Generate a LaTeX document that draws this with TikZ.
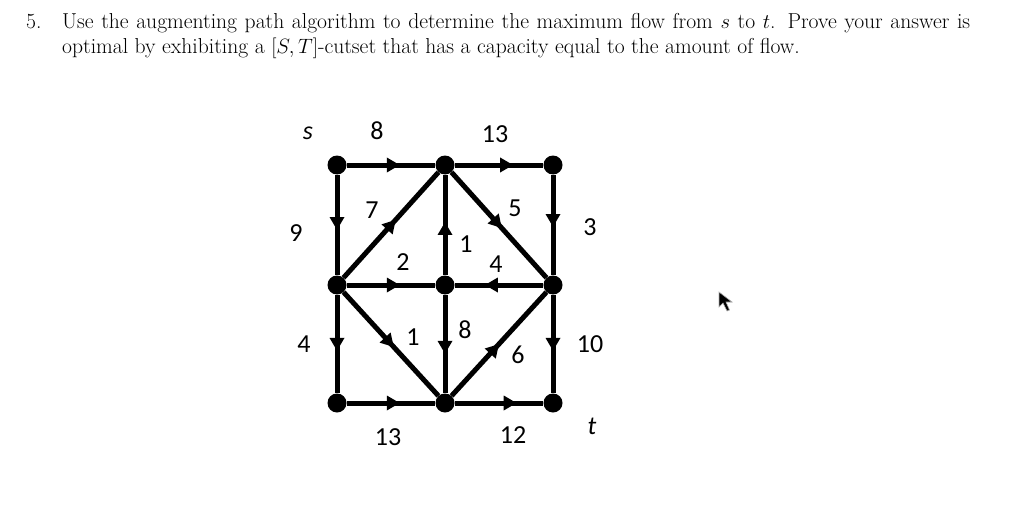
\documentclass[tikz,border=0pt]{standalone}
\usepackage{fontspec}
\newfontfamily\lab{Carlito}
\usetikzlibrary{decorations.markings,arrows.meta}
\tikzset{
  vtx/.style={circle,fill=black,inner sep=0pt,minimum size=19pt},
  flowedge/.style={line width=5pt,postaction={decorate},
    decoration={markings,mark=at position #1 with {\arrow{Triangle[length=13pt,width=14pt]}}}},
  num/.style={font=\lab\fontsize{26}{26}\selectfont,inner sep=0pt},
  hdr/.style={anchor=base west,inner sep=0pt,font=\fontsize{21.6}{25}\selectfont}
}
\begin{document}
\begin{tikzpicture}[x=1pt,y=-1pt]
\useasboundingbox[fill=white] (0,0) rectangle (1024,508);
% header
\node[hdr] (n5) at (26,29) {5.};
\node[hdr] (l1) at (62,29) {\makebox[908pt][s]{Use the augmenting path algorithm to determine the maximum flow from $s$ to $t$. Prove your answer is}};
\node[hdr] (l2) at (62,54) {optimal by exhibiting a $[S,T]$-cutset that has a capacity equal to the amount of flow.};
% vertices
\node[vtx] (s) at (337,165) {};
\node[vtx] (a) at (445,165) {};
\node[vtx] (b) at (553,165) {};
\node[vtx] (c) at (337,285) {};
\node[vtx] (d) at (445,285) {};
\node[vtx] (e) at (553,285) {};
\node[vtx] (f) at (337,403) {};
\node[vtx] (g) at (445,403) {};
\node[vtx] (t) at (553,403) {};
% edges
\draw[flowedge=0.6] (s) -- (a);
\draw[flowedge=0.66] (a) -- (b);
\draw[flowedge=0.55] (s) -- (c);
\draw[flowedge=0.55] (c) -- (a);
\draw[flowedge=0.53] (d) -- (a);
\draw[flowedge=0.53] (a) -- (e);
\draw[flowedge=0.52] (b) -- (e);
\draw[flowedge=0.6] (c) -- (d);
\draw[flowedge=0.66] (e) -- (d);
\draw[flowedge=0.57] (c) -- (f);
\draw[flowedge=0.53] (c) -- (g);
\draw[flowedge=0.6] (d) -- (g);
\draw[flowedge=0.5] (g) -- (e);
\draw[flowedge=0.57] (e) -- (t);
\draw[flowedge=0.6] (f) -- (g);
\draw[flowedge=0.7] (g) -- (t);
% labels
\node[num] (ls) at (308,133) {\itshape s};
\node[num] (lt) at (592,426) {\itshape t};
\node[num] (w1) at (377,131) {8};
\node[num] (w2) at (495,134) {13};
\node[num] (w3) at (296,233) {9};
\node[num] (w4) at (372,210) {7};
\node[num] (w5) at (466,244) {1};
\node[num] (w6) at (515,208) {5};
\node[num] (w7) at (590,227) {3};
\node[num] (w8) at (403,262) {2};
\node[num] (w9) at (496,264) {4};
\node[num] (w10) at (304,344) {4};
\node[num] (w11) at (413,337) {1};
\node[num] (w12) at (465,330) {8};
\node[num] (w13) at (518,355) {6};
\node[num] (w14) at (590,344) {10};
\node[num] (w15) at (388,437) {13};
\node[num] (w16) at (513,435) {12};
% cursor
\fill[black,draw=gray!60,line width=0.6pt] (719,292) -- (719,307) -- (723,303) -- (727,311) -- (729.5,310) -- (726,302) -- (732,302) -- cycle;
\end{tikzpicture}
\end{document}
